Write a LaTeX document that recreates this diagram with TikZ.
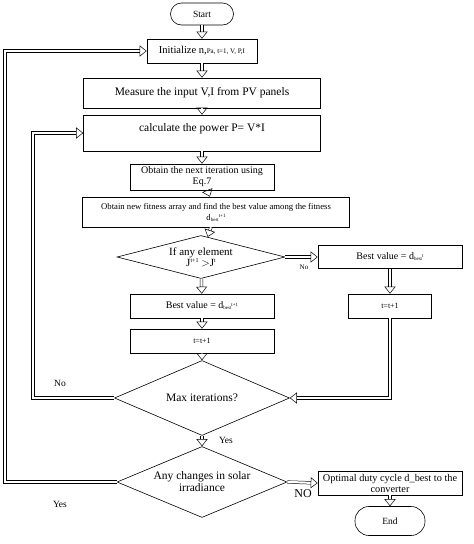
\documentclass[tikz,border=0pt]{standalone}
\usepackage{fontspec}
\setmainfont{Liberation Serif}
\usetikzlibrary{shapes.geometric,arrows.meta}

\newcommand{\dbest}[1]{d{\fontsize{5}{5}\selectfont\raisebox{-0.4ex}{best}\raisebox{1.3ex}{#1}}}

\begin{document}
\begin{tikzpicture}[x=1pt, y=-1pt,
box/.style = {draw, line width=0.6pt, align=center, inner sep=1pt, font=\fontsize{11.5}{13}\selectfont},
term/.style = {box, rounded corners=11pt, font=\fontsize{9.5}{11}\selectfont},
cond/.style = {diamond, draw, line width=0.6pt, align=center, inner sep=0pt, font=\fontsize{11.5}{12}\selectfont},
flow/.style = {double, double distance=2.2pt, line width=0.5pt, -{Triangle[open, length=7pt, width=11pt]}},
tag/.style = {font=\fontsize{9.5}{10}\selectfont},
]
\useasboundingbox (0,0) rectangle (474,544);

% Draw main column
\node[term, minimum width=63, minimum height=22] (start) at (202,14) {Start};
\node[box, minimum width=110, minimum height=24, font=\fontsize{10.5}{12}\selectfont] (init) at (202,51) {Initialize n,{\fontsize{7}{8}\selectfont Pa, t=1, V, P,I}};
\node[box, minimum width=237, minimum height=30] (measure) at (202,93) {Measure the input V,I from PV panels};
\node[box, minimum width=237, minimum height=36] (calc) at (202,133) {calculate the power P= V*I\\[-2pt] \mbox{}};
\node[box, minimum width=144, minimum height=26, font=\fontsize{10}{11}\selectfont] (iter) at (202,177) {Obtain the next iteration using\\ Eq.7};
\node[box, minimum width=267, minimum height=30, font=\fontsize{8.7}{11}\selectfont] (fitness) at (216,212) {Obtain new fitness array and find the best value among the fitness\\ \dbest{t+1}};
\node[cond, aspect=3.9, minimum width=168, minimum height=43, font=\fontsize{11}{11}\selectfont] (better) at (201,257) {If any element\\ J{\fontsize{6}{6}\selectfont\raisebox{1.2ex}{t+1}} $>$J{\fontsize{6}{6}\selectfont\raisebox{1.2ex}{t}}};
\node[box, minimum width=144, minimum height=24, font=\fontsize{10}{11}\selectfont] (bestL) at (202,306) {Best value = \dbest{t+1}};
\node[box, minimum width=144, minimum height=24, font=\fontsize{8}{9}\selectfont] (tL) at (202,341) {t=t+1};
\node[cond, aspect=2.33, minimum width=175, minimum height=75] (maxit) at (202,398) {Max iterations?};
\node[cond, aspect=2.4, minimum width=170, minimum height=71] (solar) at (202,482) {Any changes in solar\\ irradiance};

% Draw right column
\node[box, minimum width=144, minimum height=23, font=\fontsize{10}{11}\selectfont] (bestR) at (390,257) {Best value = \dbest{t}};
\node[box, minimum width=83, minimum height=24, font=\fontsize{8}{9}\selectfont] (tR) at (390,306) {t=t+1};
\node[box, minimum width=144, minimum height=24, font=\fontsize{10.3}{11}\selectfont] (optimal) at (390,483) {Optimal duty cycle d\_best to the\\ converter};
\node[term, minimum width=70, minimum height=29, rounded corners=14pt] (end) at (390,521) {End};

% Loop corners
\coordinate (outerleft) at (5,51);
\coordinate (innerleft) at (33,133);

% Draw edges
\draw[flow] (start) -- (init);
\draw[flow] (init) -- (measure);
\draw[flow] (measure) -- (calc);
\draw[flow] (calc) -- (iter);
\draw[flow] (iter) -- (fitness);
\draw[flow] (fitness) -- (better);
\draw[flow] (better) -- (bestL);
\draw[flow] (bestL) -- (tL);
\draw[flow] (tL) -- (maxit);
\draw[flow] (maxit) -- (solar);
\draw[flow] (better.east) -- (bestR.west);
\draw[flow] (bestR) -- (tR);
\draw[flow] (tR.south) |- (maxit.east);
\draw[flow] (maxit.west) -| (innerleft) -- (calc.west);
\draw[flow] (solar.west) -| (outerleft) -- (init.west);
\draw[flow] (solar.east) -- (optimal.west);
\draw[flow] (optimal) -- (end);

% Label edges
\node[tag, font=\fontsize{7}{8}\selectfont] (noA) at (304,267) {No};
\node[tag] (noB) at (60,383) {No};
\node[tag] (yesA) at (226,440) {Yes};
\node[tag] (yesB) at (60,504) {Yes};
\node[tag, font=\fontsize{12}{13}\selectfont] (noC) at (303,494) {NO};

\end{tikzpicture}
\end{document}
